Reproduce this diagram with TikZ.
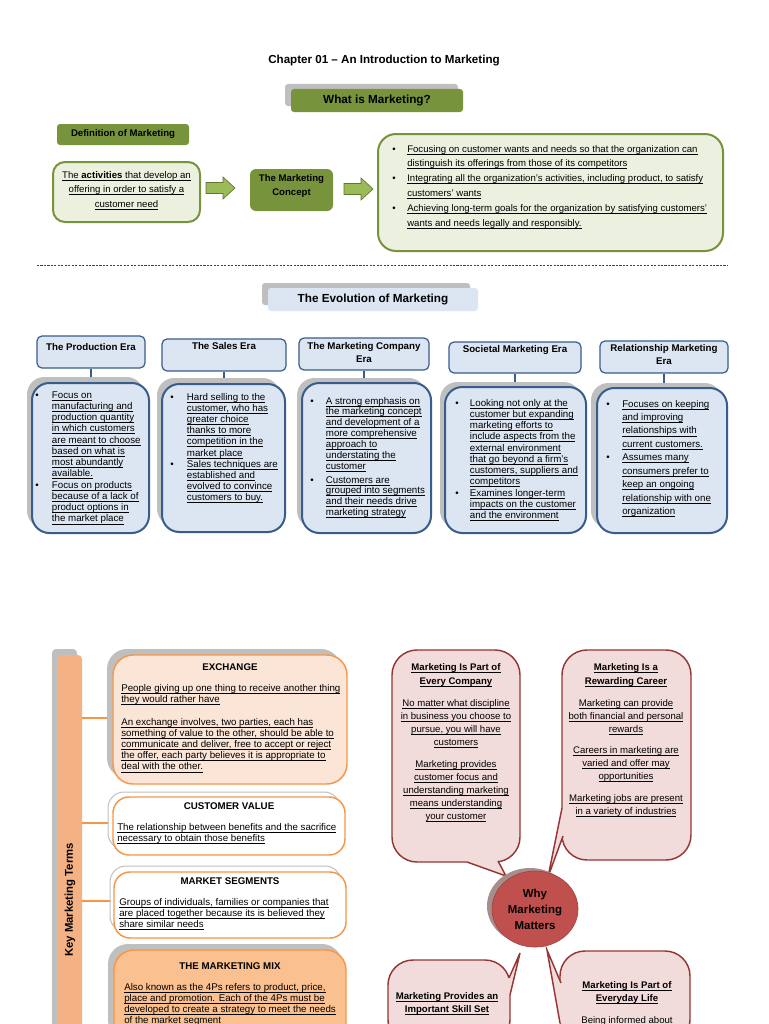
\documentclass[tikz,border=0pt]{standalone}
\usepackage{fontspec}
\setmainfont{Liberation Sans}
\usetikzlibrary{shapes.geometric,fit}
\definecolor{dgreen}{HTML}{77933C}
\definecolor{lgreen}{HTML}{EBF1DE}
\definecolor{agreen}{HTML}{9BBB59}
\definecolor{agreenb}{HTML}{5F7530}
\definecolor{shgray}{HTML}{BFBFBF}
\definecolor{lblue}{HTML}{DCE6F2}
\definecolor{bblue}{HTML}{385D8A}
\definecolor{orb}{HTML}{F79646}
\definecolor{orl}{HTML}{FBE5D6}
\definecolor{orm}{HTML}{FAC090}
\definecolor{orbar}{HTML}{F4B183}
\definecolor{pinkf}{HTML}{F2DCDB}
\definecolor{redb}{HTML}{953735}
\definecolor{redc}{HTML}{C0504D}
\definecolor{redsh}{HTML}{A68E8E}
\newsavebox\myulbox
\newcommand\myul[1]{\leavevmode\sbox\myulbox{#1}\rlap{\vrule height -1.2pt depth 1.75pt width \wd\myulbox}\usebox\myulbox}
\newcommand\TL[1]{\begin{tabular}[t]{@{}l@{}}#1\end{tabular}}
\newcommand\TC[1]{\begin{tabular}[t]{@{}c@{}}#1\end{tabular}}
\newcommand\TB[1]{\begin{tabular}[t]{@{}l@{}l@{}}#1\end{tabular}}
\newcommand\bu[1]{\makebox[#1][l]{\textbullet}}
\newcommand\fs[2]{\fontsize{#1}{#2}\selectfont}
\tikzset{
  shbox/.style={fill=shgray, rounded corners=2.25pt, inner sep=0pt, draw=none},
  gbox/.style={fill=dgreen, rounded corners=2.25pt, inner sep=0pt, draw=none},
  lgbox/.style={fill=lgreen, draw=dgreen, line width=1.5pt, inner sep=0pt},
  garrow/.style={fill=agreen, draw=agreenb, line width=0.5pt},
  hdr/.style={fill=lblue, draw=bblue, line width=0.9pt, rounded corners=3.75pt, inner sep=0pt},
  cbox/.style={fill=lblue, draw=bblue, line width=1.5pt, rounded corners=13pt, inner sep=0pt},
  cshadow/.style={fill=shgray, rounded corners=13pt, inner sep=0pt},
  bline/.style={draw=bblue, line width=0.9pt},
  obox/.style={draw=orb, line width=1.1pt, rounded corners=15pt, inner sep=0pt},
  oshg/.style={fill=shgray, rounded corners=15pt, inner sep=0pt},
  oshw/.style={fill=white, draw=shgray, line width=0.75pt, rounded corners=12pt, inner sep=0pt},
  oline/.style={draw=orb, line width=1.1pt},
  bub/.style={fill=pinkf, draw=redb, line width=1.1pt, rounded corners=18.75pt, inner sep=0pt},
  tailline/.style={draw=redb, line width=1.1pt, line join=miter},
  ttl/.style={font=\bfseries\fs{7.3}{9}, anchor=base, inner sep=0pt},
  body/.style={font=\fs{7.3}{8.4}, anchor=base west, inner sep=0pt},
  evbody/.style={anchor=base west, inner sep=0pt},
}
\begin{document}
\begin{tikzpicture}[x=0.75pt,y=-0.75pt]
\path[use as bounding box, fill=white] (0,0) rectangle (768,1024);

% ---------- Title ----------
\node[font=\bfseries\fs{8.7}{10}, inner sep=0pt] (title) at (384,61) {Chapter 01 – An Introduction to Marketing};

% ---------- What is Marketing ----------
\node[shbox, fit={(285,84)(458,106)}] (wimsh) {};
\node[gbox, fit={(291,89)(463,112)}] (wim) {};
\node[font=\bfseries\fs{8.8}{10}, inner sep=0pt] (wimt) at (wim.center) {What is Marketing?};

\node[gbox, fit={(57,124)(189,145)}] (defm) {};
\node[font=\bfseries\fs{7.2}{9}, inner sep=0pt] (defmt) at (defm.center) {Definition of Marketing};

\node[lgbox, rounded corners=9pt, fit={(53,162)(200,222)}] (def) {};
\node[anchor=base, font=\fs{7.2}{10.9}, inner sep=0pt] (deft) at (126.5,178)
  {\TC{\myul{The \textbf{activities} that develop an}\\ \myul{offering in order to satisfy a}\\ \myul{customer need}}};

\node[gbox, rounded corners=4.5pt, fit={(250,169)(333,211)}] (conc) {};
\node[anchor=base, font=\bfseries\fs{7.2}{10.5}, inner sep=0pt] (conct) at (291.5,181.5) {\TC{The Marketing\\Concept}};

\filldraw[garrow] (206,182.5) -- (223,182.5) -- (223,177) -- (235,188) -- (223,199) -- (223,193.5) -- (206,193.5) -- cycle;
\filldraw[garrow] (344,183.5) -- (361,183.5) -- (361,178) -- (373,189) -- (361,200) -- (361,194.5) -- (344,194.5) -- cycle;

\node[lgbox, rounded corners=13.5pt, fit={(378,134)(723,251)}] (mc) {};
\node[anchor=base west, font=\fs{7.2}{11.1}, inner sep=0pt] (mct) at (392,152)
  {\TB{\bu{11.25pt}&\myul{Focusing on customer wants and needs so that the organization can}\\
   &\myul{distinguish its offerings from those of its competitors}\\
   \bu{11.25pt}&\myul{Integrating all the organization’s activities, including product, to satisfy}\\
   &\myul{customers’ wants}\\
   \bu{11.25pt}&\myul{Achieving long-term goals for the organization by satisfying customers’}\\
   &\myul{wants and needs legally and responsibly.}}};

% ---------- dashed separator ----------
\coordinate (dl) at (37,265);
\coordinate (dr) at (728,265);
\draw[black!75, line width=0.5pt, dash pattern=on 1.6pt off 1pt] (dl) -- (dr);

% ---------- Evolution ----------
\node[shbox, fit={(262,283)(470,305)}] (evsh) {};
\node[fill=lblue, rounded corners=2.25pt, inner sep=0pt, fit={(268,288)(478,311)}] (ev) {};
\node[font=\bfseries\fs{8.8}{10}, inner sep=0pt] (evt) at (373,299.5) {The Evolution of Marketing};

% headers
\node[hdr, fit={(37,336)(145,368)}] (h1) {};
\node[hdr, fit={(162,339)(286,371)}] (h2) {};
\node[hdr, fit={(299,338)(429,370)}] (h3) {};
\node[hdr, fit={(449,342)(581,373)}] (h4) {};
\node[hdr, fit={(600,341)(728,373)}] (h5) {};
\node[ttl] (h1t) at (91,350) {The Production Era};
\node[ttl] (h2t) at (224,349) {The Sales Era};
\node[ttl, font=\bfseries\fs{7.3}{9.75}] (h3t) at (364,349) {\TC{The Marketing Company\\Era}};
\node[ttl] (h4t) at (515,352) {Societal Marketing Era};
\node[ttl, font=\bfseries\fs{7.3}{9.75}] (h5t) at (664,351) {\TC{Relationship Marketing\\Era}};

% content shadows and boxes
\node[cshadow, fit={(27,377)(144,528)}] (c1s) {};
\node[cshadow, fit={(157,378)(280,526)}] (c2s) {};
\node[cshadow, fit={(297,378)(426,528)}] (c3s) {};
\node[cshadow, fit={(440,382)(581,528)}] (c4s) {};
\node[cshadow, fit={(591,383)(722,528)}] (c5s) {};
\node[cbox, fit={(32,383)(149,533)}] (c1) {};
\node[cbox, fit={(162,384)(285,532)}] (c2) {};
\node[cbox, fit={(302,383)(431,533)}] (c3) {};
\node[cbox, fit={(445,387)(586,533)}] (c4) {};
\node[cbox, fit={(597,388)(727,533)}] (c5) {};

\draw[bline] (h1.south) -- (h1.south |- c1s.north);
\draw[bline] (h2.south) -- (h2.south |- c2s.north);
\draw[bline] (h3.south) -- (h3.south |- c3s.north);
\draw[bline] (h4.south) -- (h4.south |- c4s.north);
\draw[bline] (h5.south) -- (h5.south |- c5s.north);

\node[evbody, font=\fs{7.3}{8.45}] (c1t) at (35,398)
 {\TB{\bu{12.5pt}&\myul{Focus on}\\ &\myul{manufacturing and}\\ &\myul{production quantity}\\ &\myul{in which customers}\\ &\myul{are meant to choose}\\ &\myul{based on what is}\\ &\myul{most abundantly}\\ &\myul{available.}\\
  \bu{12.5pt}&\myul{Focus on products}\\ &\myul{because of a lack of}\\ &\myul{product options in}\\ &\myul{the market place}}};
\node[evbody, font=\fs{7.3}{8.4}] (c2t) at (170,400)
 {\TB{\bu{12.5pt}&\myul{Hard selling to the}\\ &\myul{customer, who has}\\ &\myul{greater choice}\\ &\myul{thanks to more}\\ &\myul{competition in the}\\ &\myul{market place}\\
  \bu{12.5pt}&\myul{Sales techniques are}\\ &\myul{established and}\\ &\myul{evolved to convince}\\ &\myul{customers to buy.}}};
\node[evbody, font=\fs{7.3}{8.15}] (c3t) at (310,404)
 {\TB{\bu{11.75pt}&\myul{A strong emphasis on}\\ &\myul{the marketing concept}\\ &\myul{and development of a}\\ &\myul{more comprehensive}\\ &\myul{approach to}\\ &\myul{understating the}\\ &\myul{customer}\\[2.2pt]
  \bu{11.75pt}&\myul{Customers are}\\ &\myul{grouped into segments}\\ &\myul{and their needs drive}\\ &\myul{marketing strategy}}};
\node[evbody, font=\fs{7.3}{8.45}] (c4t) at (455,406)
 {\TB{\bu{11pt}&\myul{Looking not only at the}\\ &\myul{customer but expanding}\\ &\myul{marketing efforts to}\\ &\myul{include aspects from the}\\ &\myul{external environment}\\ &\myul{that go beyond a firm's}\\ &\myul{customers, suppliers and}\\ &\myul{competitors}\\
  \bu{11pt}&\myul{Examines longer-term}\\ &\myul{impacts on the customer}\\ &\myul{and the environment}}};
\node[evbody, font=\fs{7.3}{10.1}] (c5t) at (606,407)
 {\TB{\bu{12pt}&\myul{Focuses on keeping}\\ &\myul{and improving}\\ &\myul{relationships with}\\ &\myul{current customers.}\\
  \bu{12pt}&\myul{Assumes many}\\ &\myul{consumers prefer to}\\ &\myul{keep an ongoing}\\ &\myul{relationship with one}\\ &\myul{organization}}};

% ---------- Key Marketing Terms ----------
\node[fill=shgray, rounded corners=3pt, inner sep=0pt, fit={(52,649)(77,1040)}] (barsh) {};
\node[fill=orbar, rounded corners=3pt, inner sep=0pt, fit={(58,655)(82,1040)}] (bar) {};
\node[rotate=90, font=\bfseries\fs{8.5}{10}, inner sep=0pt] (kmt) at (70,900) {Key Marketing Terms};

\node[oshg, fit={(107,649)(341,778)}] (exsh) {};
\node[oshw, fit={(108,792)(340,849)}] (cvsh) {};
\node[oshw, fit={(110,866)(341,932)}] (mssh) {};
\node[oshg, fit={(108,944)(342,1040)}] (mxsh) {};

\draw[oline] (bar.east |- 0,718) -- (exsh.west |- 0,718);
\draw[oline] (bar.east |- 0,823) -- (cvsh.west |- 0,823);
\draw[oline] (bar.east |- 0,901) -- (mssh.west |- 0,901);

\node[obox, fill=orl, fit={(113,655)(347,784)}] (exch) {};
\node[obox, fill=white, rounded corners=12pt, fit={(113,797)(345,855)}] (cv) {};
\node[obox, fill=white, rounded corners=12pt, fit={(114,872)(346,938)}] (ms) {};
\node[obox, fill=orm, fit={(114,950)(346,1045)}] (mx) {};

\node[ttl] (ext) at (230,670) {EXCHANGE};
\node[body] (exb) at (121,691)
 {\TL{\myul{People giving up one thing to receive another thing}\\ \myul{they would rather have}\\[8.8pt]
  \myul{An exchange involves, two parties, each has}\\ \myul{something of value to the other, should be able to}\\ \myul{communicate and deliver, free to accept or reject}\\ \myul{the offer, each party believes it is appropriate to}\\ \myul{deal with the other.}}};
\node[ttl] (cvt) at (229,809) {CUSTOMER VALUE};
\node[body] (cvb) at (117,830)
 {\TL{\myul{The relationship between benefits and the sacrifice}\\ \myul{necessary to obtain those benefits}}};
\node[ttl] (mst) at (230,884) {MARKET SEGMENTS};
\node[body] (msb) at (119,905)
 {\TL{\myul{Groups of individuals, families or companies that}\\ \myul{are placed together because its is believed they}\\ \myul{share similar needs}}};
\node[ttl] (mxt) at (230,969) {THE MARKETING MIX};
\node[body] (mxb) at (124,990)
 {\TL{\myul{Also known as the 4Ps refers to product, price,}\\ \myul{place and promotion. Each of the 4Ps must be}\\ \myul{developed to create a strategy to meet the needs}\\ \myul{of the market segment}}};

% ---------- Why Marketing Matters ----------
\node[bub, fit={(392,650)(520,862)}] (b1) {};
\fill[pinkf] (467,857) -- (467,862) -- (506,876) -- (498,861) -- (498,857) -- cycle;
\draw[tailline] (467,862) -- (506,876) -- (498,861);

\node[bub, fit={(562,650)(691,860)}] (b2) {};
\fill[pinkf] (566,808) -- (562,808) -- (548,877) -- (563,836) -- (567,836) -- cycle;
\draw[tailline] (562,808) -- (548,877) -- (563,836);

\node[bub, fit={(388,960)(510,1045)}] (b3) {};
\fill[pinkf] (504,978) -- (509,978) -- (520,953) -- (510,995) -- (505,995) -- cycle;
\draw[tailline] (509,978) -- (520,953) -- (510,995);

\node[bub, fit={(560,951)(690,1045)}] (b4) {};
\fill[pinkf] (566,983) -- (561,983) -- (547,950) -- (560,1023) -- (566,1023) -- cycle;
\draw[tailline] (561,983) -- (547,950) -- (560,1023);

\node[ellipse, fill=redsh, minimum width=64.5pt, minimum height=57pt, inner sep=0pt] (whysh) at (530,906) {};
\node[ellipse, fill=redc, draw=redc!85!black, line width=0.5pt, minimum width=64.5pt, minimum height=57pt, inner sep=0pt] (why) at (535,909) {};
\node[anchor=base, text=black, font=\bfseries\fs{8.6}{12}, inner sep=0pt] (whyt) at (535,897) {\TC{Why\\Marketing\\Matters}};

\node[anchor=base, font=\bfseries\fs{7.2}{10.5}, inner sep=0pt] (b1t) at (456,670) {\TC{\myul{Marketing Is Part of}\\ \myul{Every Company}}};
\node[anchor=base, font=\fs{7.2}{9.75}, inner sep=0pt] (b1b) at (456,706)
 {\TC{\myul{No matter what discipline}\\ \myul{in business you choose to}\\ \myul{pursue, you will have}\\ \myul{customers}\\[6.75pt]
  \myul{Marketing provides}\\ \myul{customer focus and}\\ \myul{understanding marketing}\\ \myul{means understanding}\\ \myul{your customer}}};

\node[anchor=base, font=\bfseries\fs{7.2}{10.5}, inner sep=0pt] (b2t) at (626,670) {\TC{\myul{Marketing Is a}\\ \myul{Rewarding Career}}};
\node[anchor=base, font=\fs{7.2}{9.75}, inner sep=0pt] (b2b) at (626,706)
 {\TC{\myul{Marketing can provide}\\ \myul{both financial and personal}\\ \myul{rewards}\\[6pt]
  \myul{Careers in marketing are}\\ \myul{varied and offer may}\\ \myul{opportunities}\\[6.75pt]
  \myul{Marketing jobs are present}\\ \myul{in a variety of industries}}};

\node[anchor=base, font=\bfseries\fs{7.2}{9.75}, inner sep=0pt] (b3t) at (447,999) {\TC{\myul{Marketing Provides an}\\ \myul{Important Skill Set}}};

\node[anchor=base, font=\bfseries\fs{7.2}{9.75}, inner sep=0pt] (b4t) at (627,988) {\TC{\myul{Marketing Is Part of}\\ \myul{Everyday Life}}};
\node[anchor=base, font=\fs{7.2}{9.75}, inner sep=0pt] (b4b) at (627,1023) {\myul{Being informed about}};
\end{tikzpicture}
\end{document}
